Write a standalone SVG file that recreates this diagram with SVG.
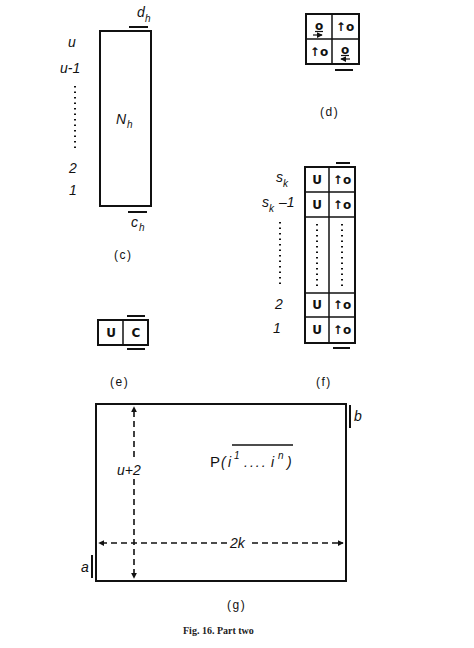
<svg xmlns="http://www.w3.org/2000/svg" width="474" height="648" viewBox="0 0 474 648">
<style>
.box{fill:none;stroke:#111;stroke-width:2}
.thin{fill:none;stroke:#111;stroke-width:1.5}
.bar{stroke:#111;stroke-width:2}
.dot{stroke:#111;stroke-width:2;stroke-dasharray:1.5,4}
.dash{stroke:#111;stroke-width:1.6;stroke-dasharray:6,4;fill:none}
.it{font-family:"Liberation Sans",Arial,sans-serif;font-style:italic;font-size:14px;fill:#111}
.sub{font-family:"Liberation Sans",Arial,sans-serif;font-style:italic;font-size:10px;fill:#111}
.lab{font-family:"Liberation Sans",Arial,sans-serif;font-size:12px;fill:#111;letter-spacing:1.5px}
.cell{font-family:"DejaVu Sans","Liberation Sans",sans-serif;font-weight:bold;font-size:12px;fill:#111;text-anchor:middle}
.cap{font-family:"Liberation Serif","Times New Roman",serif;font-weight:bold;font-size:10px;fill:#222}
</style>
<defs>
<marker id="ah" viewBox="0 0 8 8" refX="7" refY="4" markerWidth="6" markerHeight="6" orient="auto-start-reverse" markerUnits="userSpaceOnUse">
<path d="M0,0 L8,4 L0,8 z" fill="#111"/>
</marker>
</defs>

<g id="c">
<rect class="box" x="100" y="31" width="51" height="175"/>
<line class="bar" x1="129" y1="27" x2="148" y2="27"/>
<text class="it" x="137" y="17">d</text><text class="sub" x="145" y="22">h</text>
<line class="bar" x1="128" y1="212" x2="147" y2="212"/>
<text class="it" x="131" y="227">c</text><text class="sub" x="139" y="231">h</text>
<text class="it" x="116" y="124">N</text><text class="sub" x="127" y="128">h</text>
<text class="it" x="68" y="47">u</text>
<text class="it" x="60" y="73">u-1</text>
<line class="dot" x1="75" y1="86" x2="75" y2="150"/>
<text class="it" x="69" y="173">2</text>
<text class="it" x="69" y="195">1</text>
<text class="lab" x="114" y="259">(c)</text>
</g>

<g id="d">
<rect class="box" x="306" y="14" width="53" height="50"/>
<line class="thin" x1="332" y1="14" x2="332" y2="64"/>
<line class="thin" x1="306" y1="39" x2="359" y2="39"/>
<text class="cell" x="319" y="30">o</text>
<line x1="315" y1="31.5" x2="323" y2="31.5" stroke="#111" stroke-width="1.2"/>
<line x1="313" y1="35" x2="322" y2="35" stroke="#111" stroke-width="1.2" marker-end="url(#ah)"/>
<text class="cell" x="345" y="31">↑o</text>
<text class="cell" x="319" y="56">↑o</text>
<text class="cell" x="345" y="54">o</text>
<line x1="341" y1="55.5" x2="349" y2="55.5" stroke="#111" stroke-width="1.2"/>
<line x1="350" y1="59" x2="341" y2="59" stroke="#111" stroke-width="1.2" marker-end="url(#ah)"/>
<line class="bar" x1="335" y1="70" x2="353" y2="70"/>
<text class="lab" x="320" y="116">(d)</text>
</g>

<g id="f">
<rect class="box" x="305" y="167" width="50" height="176"/>
<line class="thin" x1="329" y1="167" x2="329" y2="343"/>
<line class="thin" x1="305" y1="192" x2="355" y2="192"/>
<line class="thin" x1="305" y1="217" x2="355" y2="217"/>
<line class="thin" x1="305" y1="293" x2="355" y2="293"/>
<line class="thin" x1="305" y1="317" x2="355" y2="317"/>
<line class="bar" x1="336" y1="163" x2="350" y2="163"/>
<line class="bar" x1="333" y1="348" x2="350" y2="348"/>
<text class="cell" x="317" y="184">U</text><text class="cell" x="342" y="184">↑o</text>
<text class="cell" x="317" y="209">U</text><text class="cell" x="342" y="209">↑o</text>
<text class="cell" x="317" y="309">U</text><text class="cell" x="342" y="309">↑o</text>
<text class="cell" x="317" y="334">U</text><text class="cell" x="342" y="334">↑o</text>
<line class="dot" x1="317" y1="224" x2="317" y2="288"/>
<line class="dot" x1="342" y1="224" x2="342" y2="288"/>
<text class="it" x="276" y="182">s</text><text class="sub" x="283" y="187">k</text>
<text class="it" x="262" y="207">s</text><text class="sub" x="269" y="212">k</text><text class="it" x="279" y="207">–1</text>
<line class="dot" x1="280" y1="222" x2="280" y2="286"/>
<text class="it" x="275" y="309">2</text>
<text class="it" x="273" y="333">1</text>
<text class="lab" x="316" y="386">(f)</text>
</g>

<g id="e">
<rect class="box" x="98" y="320" width="50" height="25"/>
<line class="thin" x1="123" y1="320" x2="123" y2="345"/>
<line class="bar" x1="127" y1="316" x2="145" y2="316"/>
<line class="bar" x1="127" y1="349" x2="145" y2="349"/>
<text class="cell" x="111" y="337">U</text>
<text class="cell" x="136" y="337">C</text>
<text class="lab" x="110" y="386">(e)</text>
</g>

<g id="g">
<rect class="box" x="96" y="404" width="250" height="177"/>
<line class="bar" x1="350" y1="405" x2="350" y2="428"/>
<text class="it" x="354" y="421">b</text>
<line class="bar" x1="92" y1="555" x2="92" y2="578"/>
<text class="it" x="81" y="572">a</text>
<text class="it" x="117" y="475">u+2</text>
<text class="it" x="230" y="548">2k</text>
<text x="210" y="467" font-family="Liberation Sans,Arial,sans-serif" font-size="15" fill="#111">P<tspan font-style="italic" font-size="14" x="221">(</tspan><tspan font-style="italic" font-size="14" x="228">i</tspan><tspan font-style="italic" font-size="10" x="234" dy="-8">1</tspan><tspan font-style="italic" font-size="14" x="244" dy="8" letter-spacing="2">....</tspan><tspan font-style="italic" font-size="14" x="271">i</tspan><tspan font-style="italic" font-size="10" x="278" dy="-8">n</tspan><tspan font-style="italic" font-size="14" x="287" dy="8">)</tspan></text>
<line x1="232" y1="445" x2="293" y2="445" stroke="#111" stroke-width="1.3"/>
<text class="lab" x="227" y="609">(g)</text>
</g>

<g id="connectors">
<line class="dash" x1="134" y1="457" x2="134" y2="407" marker-end="url(#ah)"/>
<line class="dash" x1="134" y1="479" x2="134" y2="578" marker-end="url(#ah)"/>
<line class="dash" x1="227" y1="543" x2="99" y2="543" marker-end="url(#ah)"/>
<line class="dash" x1="252" y1="543" x2="343" y2="543" marker-end="url(#ah)"/>
</g>

<text class="cap" x="183" y="634">Fig. 16. Part two</text>
</svg>
